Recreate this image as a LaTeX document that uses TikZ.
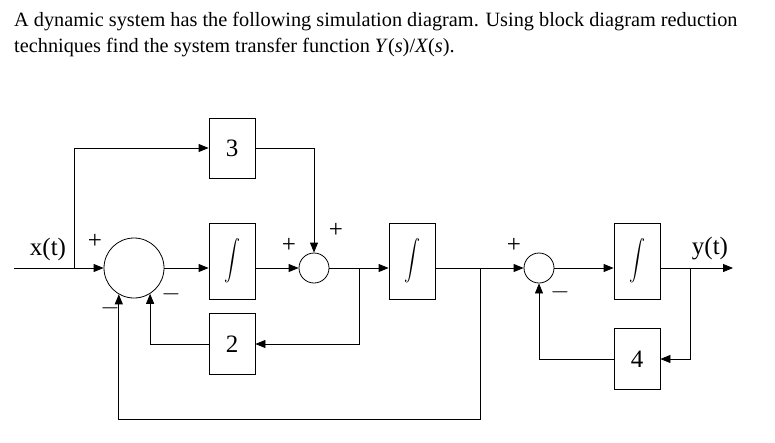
\documentclass[tikz,border=0pt]{standalone}
\usepackage{fontspec}
\setmainfont{Liberation Serif}
\usetikzlibrary{arrows.meta}
\newcommand{\bigint}{\scalebox{1.6}[2.0]{$\displaystyle\int$}}
\begin{document}
\begin{tikzpicture}[x=1pt,y=-1pt,
  blk/.style={draw,line width=0.8pt,minimum width=46pt,inner sep=0pt,font=\fontsize{25}{28}\selectfont},
  sumc/.style={draw,circle,line width=0.8pt,inner sep=0pt},
  sig/.style={line width=0.8pt,-{Triangle[length=10pt,width=8pt]}},
  ln/.style={line width=0.8pt},
  lab/.style={font=\fontsize{25}{28}\selectfont,inner sep=0pt},
  sg/.style={font=\fontsize{25}{26}\selectfont,inner sep=0pt}]
\useasboundingbox (0,0) rectangle (775,442);
\node[anchor=north west,align=left,inner sep=0pt,font=\fontsize{20.3}{26}\selectfont] (title) at (14,12)
 {A dynamic system has the following simulation diagram. Using block diagram reduction\\techniques find the system transfer function \textit{Y}(\textit{s})/\textit{X}(\textit{s}).};
\node[blk,minimum height=60pt] (b3) at (232,148) {3};
\node[blk,minimum height=76pt] (i1) at (232,261) {\bigint};
\node[blk,minimum height=61pt] (b2) at (232,344) {2};
\node[blk,minimum height=76pt] (i2) at (412,261) {\bigint};
\node[blk,minimum height=76pt] (i3) at (637,261) {\bigint};
\node[blk,minimum height=61pt] (b4) at (637,359) {4};
\node[sumc,minimum size=60pt] (s1) at (134,268) {};
\node[sumc,minimum size=30pt] (s2) at (314,268) {};
\node[sumc,minimum size=30pt] (s3) at (539,268) {};
\coordinate (xin) at (14,268);
\coordinate (br0) at (74,268);
\coordinate (br1) at (359,268);
\coordinate (br2) at (480,268);
\coordinate (br3) at (690,268);
\coordinate (yout) at (733,268);
\draw[ln] (xin) -- (br0);
\draw[sig] (br0) -- (s1.west);
\draw[sig] (br0) |- (b3.west);
\draw[sig] (b3.east) -| (s2.north);
\draw[sig] (s1.east) -- (i1.west|-s1.east);
\draw[sig] (i1.east|-s2) -- (s2.west);
\draw[sig] (s2.east) -- (i2.west|-s2);
\draw[sig] (br1) |- (b2.east);
\draw[sig] (b2.west) -| (s1.-58);
\draw[sig] (i2.east|-s3) -- (s3.west);
\draw[sig] (br2) -- (480,419) -| (s1.-120);
\draw[sig] (s3.east) -- (i3.west|-s3);
\draw[sig] (i3.east|-s3) -- (yout);
\draw[sig] (br3) |- (b4.east);
\draw[sig] (b4.west) -| (s3.south);
\node[lab] (xl) at (48,249) {x(t)};
\node[lab] (yl) at (710,249) {y(t)};
\node[sg] at (95,241) {+};
\node[sg] at (171,294) {$-$};
\node[sg] at (110,308) {$-$};
\node[sg] at (289,245) {+};
\node[sg] at (336,230) {+};
\node[sg] at (514,245) {+};
\node[sg] at (560,292) {$-$};
\end{tikzpicture}
\end{document}
